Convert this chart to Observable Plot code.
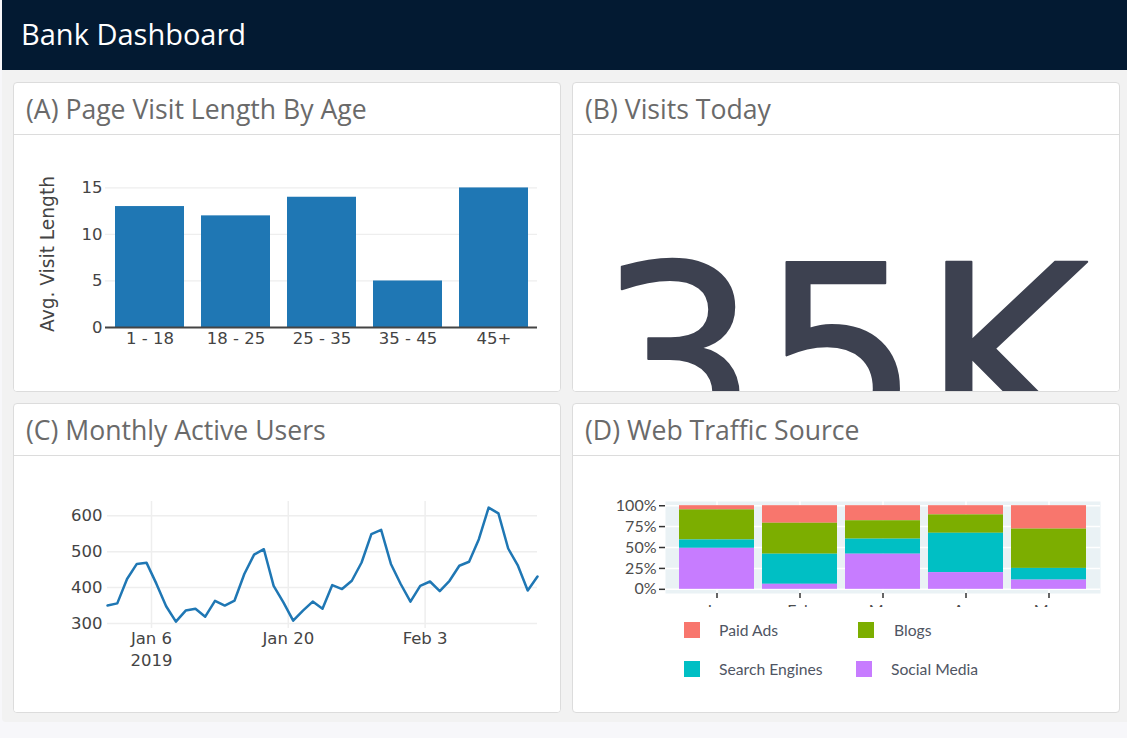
<!DOCTYPE html>
<html>
<head>
<meta charset="utf-8">
<script src="https://cdn.jsdelivr.net/npm/d3@7"></script>
<script src="https://cdn.jsdelivr.net/npm/@observablehq/plot@0.6"></script>
<style>
  html, body { margin: 0; padding: 0; width: 1127px; height: 738px; overflow: hidden; background: #f7f7fa; }
  #wrap { position: absolute; left: 2px; top: 0; width: 1140px; height: 722px; background: #f2f2f2; border-radius: 0 0 4px 4px; }
  #header { position: absolute; left: 2px; top: 0; width: 1140px; height: 70px; background: #031a32; }
  #header h1 { position: absolute; margin: 0; left: 19px; top: 14px; font: 400 29px "Open Sans", sans-serif; color: #fff; white-space: nowrap; }
  .card { position: absolute; box-sizing: border-box; width: 548px; height: 310px; background: #fff; border: 1px solid #dcdcdc; border-radius: 4px; overflow: hidden; }
  .card .title { position: absolute; left: 0; top: 0; width: 546px; height: 51px; border-bottom: 1px solid #dcdcdc; }
  .card .title span { position: absolute; left: 12px; top: 8px; font: 400 26.6px "Open Sans", sans-serif; color: #6a6a6a; white-space: nowrap; }
  .card .body { position: absolute; left: 0; top: 52px; width: 546px; height: 256px; overflow: hidden; }
  .legend-item { position: absolute; font: 400 15.7px "Lato", sans-serif; color: #4f5563; white-space: nowrap; }
  .legend-item i { position: absolute; left: 0; top: 0; width: 16px; height: 16px; }
  .legend-item span { position: absolute; top: -1px; }
</style>
</head>
<body>
<div id="wrap"></div>
<div id="header"><h1>Bank Dashboard</h1></div>
<div class="card" style="left:13px;top:82px"><div class="title"><span>(A) Page Visit Length By Age</span></div><div class="body" id="chartA"></div></div>
<div class="card" style="left:572px;top:82px"><div class="title"><span>(B) Visits Today</span></div><div class="body" id="chartB"></div></div>
<div class="card" style="left:13px;top:403px"><div class="title"><span>(C) Monthly Active Users</span></div><div class="body" id="chartC"></div></div>
<div class="card" style="left:572px;top:403px"><div class="title"><span>(D) Web Traffic Source</span></div><div class="body" id="chartD"></div></div>
<div id="legendD"></div>
<script>
// ---- Data ----
const ageGroups = ["1 - 18", "18 - 25", "25 - 35", "35 - 45", "45+"];
const visitLength = [13, 12, 14, 5, 15];

const visitsToday = [35000];

const mauStart = "2019-01-01T12:00Z";
const mauValues = [350, 356, 424, 466, 469, 411, 348, 305, 336, 341, 319, 363, 350, 364, 438,
                   492, 507, 405, 359, 308, 336, 361, 341, 407, 396, 419, 470, 549, 561, 466,
                   410, 361, 405, 417, 390, 419, 461, 472, 535, 623, 607, 509, 461, 392, 431];
const mauTicks = ["2019-01-06", "2019-01-20", "2019-02-03"];
const mauYTicks = [300, 400, 500, 600];

const months = ["Jan", "Feb", "Mar", "Apr", "May"];
const sources = ["Paid Ads", "Blogs", "Search Engines", "Social Media"];
const sourceColors = ["#F8766D", "#7CAE00", "#00BFC4", "#C77CFF"];
const paidAds = [5, 21, 18, 11, 28];
const blogs = [36, 37, 22, 22, 47];
const searchEngines = [10, 36, 18, 47, 14];
const socialMedia = [49, 6, 42, 20, 11];
const shareTicks = [0, 0.25, 0.5, 0.75, 1];

// ---- Tables ----
const ageRows = ageGroups.map((a, i) => ({age: a, len: visitLength[i]}));
const start = new Date(mauStart);
const mauRows = mauValues.map((v, i) => ({date: d3.utcDay.offset(start, i), users: v}));
const tickDates = mauTicks.map(d => new Date(d + "T00:00Z"));
const seriesBySource = [paidAds, blogs, searchEngines, socialMedia];
const trafficRows = [];
sources.forEach((s, j) => months.forEach((m, i) => trafficRows.push({month: m, source: s, share: seriesBySource[j][i]})));

const plotlyFont = {fontFamily: "'DejaVu Sans', Verdana, sans-serif", fontSize: "16.5px", color: "#444", background: "white"};

// ---- (A) ----
document.getElementById("chartA").append(Plot.plot({
  width: 546, height: 256,
  marginLeft: 91, marginRight: 23, marginTop: 45, marginBottom: 64,
  style: plotlyFont,
  x: {domain: ageGroups, paddingInner: 0.2, paddingOuter: 0.1, label: null},
  y: {domain: [0, 15.8], label: null},
  marks: [
    Plot.gridY([5, 10, 15], {stroke: "#eee", strokeOpacity: 1, strokeWidth: 1.25}),
    Plot.barY(ageRows, {x: "age", y: "len", fill: "#1f77b4"}),
    Plot.ruleY([0], {stroke: "#444", strokeWidth: 2}),
    Plot.axisY([0, 5, 10, 15], {tickSize: 0, tickPadding: 3, label: null}),
    Plot.axisX({tickSize: 0, tickPadding: 5, label: null}),
    Plot.text(["Avg. Visit Length"], {frameAnchor: "left", textAnchor: "middle", rotate: -90, dx: -57, fontSize: 18.6, fill: "#444"})
  ]
}));

// ---- (B) ----
document.getElementById("chartB").append(Plot.plot({
  width: 546, height: 256, margin: 0,
  style: {background: "white"},
  marks: [
    Plot.text(visitsToday, {text: d => (d / 1000) + "K", frameAnchor: "top", dy: 312, dx: -4, lineAnchor: "bottom",
      fontSize: 255, fontFamily: "'DejaVu Sans', Verdana, sans-serif", fill: "#3d4150",
      stroke: "#3d4150", strokeWidth: 2})
  ]
}));

// ---- (C) ----
const fmtC = d => (+d === +tickDates[0] ? "Jan 6\n2019" : d3.utcFormat("%b %-d")(d));
document.getElementById("chartC").append(Plot.plot({
  width: 546, height: 256,
  marginLeft: 93, marginRight: 23, marginTop: 45, marginBottom: 84,
  style: plotlyFont,
  x: {type: "utc", domain: [mauRows[0].date, mauRows[mauRows.length - 1].date], label: null},
  y: {domain: [286, 640], label: null},
  marks: [
    Plot.gridX(tickDates, {stroke: "#eee", strokeOpacity: 1, strokeWidth: 1.5}),
    Plot.gridY(mauYTicks, {stroke: "#eee", strokeOpacity: 1, strokeWidth: 1.5}),
    Plot.lineY(mauRows, {x: "date", y: "users", stroke: "#1f77b4", strokeWidth: 2.5}),
    Plot.axisY(mauYTicks, {tickSize: 0, tickPadding: 5, label: null}),
    Plot.axisX(tickDates, {tickSize: 0, tickPadding: 0, tickFormat: fmtC, lineHeight: 1.33, label: null})
  ]
}));

// ---- (D) ----
const dWrap = document.createElement("div");
dWrap.style.cssText = "position:absolute;left:0;top:0;width:546px;height:151px;overflow:hidden";
dWrap.append(Plot.plot({
  width: 546, height: 151,
  marginLeft: 92, marginRight: 19, marginTop: 45, marginBottom: 14,
  style: {fontFamily: "Lato, sans-serif", fontSize: "16px", color: "#4d4d4d", background: "white"},
  x: {domain: months, paddingInner: 0.1, paddingOuter: 0.155, label: null},
  y: {domain: [-0.05, 1.05], label: null},
  color: {domain: sources, range: sourceColors},
  marks: [
    Plot.frame({fill: "#eaf2f5", stroke: null}),
    Plot.gridY(shareTicks, {stroke: "white", strokeOpacity: 1, strokeWidth: 1.5}),
    Plot.gridX({stroke: "white", strokeOpacity: 1, strokeWidth: 1.5}),
    Plot.barY(trafficRows, {x: "month", y: "share", fill: "source",
      order: ["Social Media", "Search Engines", "Blogs", "Paid Ads"], offset: "normalize"}),
    Plot.axisY(shareTicks, {tickFormat: d3.format(".0%"), tickSize: 6, tickPadding: 3, stroke: "#333", strokeWidth: 1.5, label: null}),
    Plot.axisX({tickSize: 5, tickPadding: 6.5, stroke: "#333", strokeWidth: 1.5, label: null})
  ]
}));
document.getElementById("chartD").append(dWrap);

// legend for (D)
const legendPos = [[684, 622, 719], [858, 622, 894], [684, 661, 719], [856, 661, 891]];
const legend = document.getElementById("legendD");
sources.forEach((s, i) => {
  const [sx, sy, tx] = legendPos[i];
  const item = document.createElement("div");
  item.className = "legend-item";
  item.style.left = sx + "px"; item.style.top = sy + "px";
  item.innerHTML = `<i style="background:${sourceColors[i]}"></i><span style="left:${tx - sx}px">${s}</span>`;
  legend.append(item);
});
</script>
</body>
</html>
